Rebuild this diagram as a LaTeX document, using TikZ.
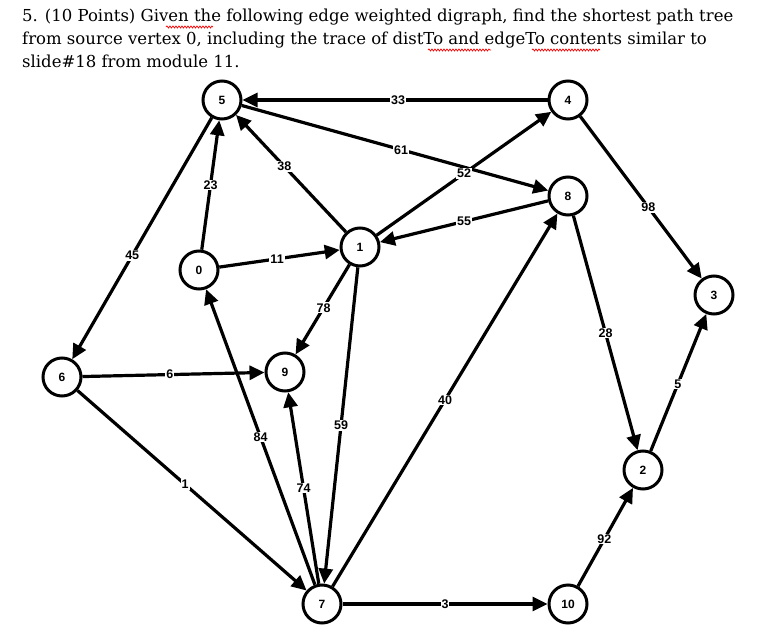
\documentclass[tikz,border=0pt]{standalone}
\usepackage{fontspec}
\setmainfont{DejaVu Serif}
\newfontfamily\lblfont{Liberation Sans}
\usetikzlibrary{arrows.meta,decorations.pathmorphing}
\begin{document}
\begin{tikzpicture}[x=1pt,y=-1pt,
  vtx/.style={circle,draw,line width=3pt,minimum size=38pt,inner sep=0pt,fill=white,font=\lblfont\bfseries\fontsize{12}{13}\selectfont},
  edg/.style={line width=3.2pt,-{Triangle[length=15pt,width=14pt]}},
  wt/.style={fill=white,inner sep=1pt,font=\lblfont\bfseries\fontsize{12.5}{13}\selectfont},
  squig/.style={red,line width=0.7pt,decorate,decoration={snake,amplitude=1pt,segment length=3pt}}]
\useasboundingbox (0,0) rectangle (770,644);
\node[anchor=base west,inner sep=0pt,font=\fontsize{16.5}{18}\selectfont] (t1) at (22,22) {5. (10 Points) Given the following edge weighted digraph, find the shortest path tree};
\node[anchor=base west,inner sep=0pt,font=\fontsize{16.5}{18}\selectfont] (t2) at (22,45) {from source vertex 0, including the trace of distTo and edgeTo contents similar to};
\node[anchor=base west,inner sep=0pt,font=\fontsize{16.5}{18}\selectfont] (t3) at (22,68) {slide\#18 from module 11.};
\draw[squig] (166,27) -- (213,27);
\draw[squig] (428,50) -- (491,50);
\draw[squig] (532,50) -- (600,50);
\node[vtx] (5) at (222,100) {5};
\node[vtx] (4) at (568,100) {4};
\node[vtx] (8) at (568,196) {8};
\node[vtx] (1) at (360,247) {1};
\node[vtx] (0) at (199,270) {0};
\node[vtx] (3) at (714,295) {3};
\node[vtx] (6) at (62,377) {6};
\node[vtx] (9) at (285,372) {9};
\node[vtx] (2) at (643,470) {2};
\node[vtx] (7) at (322,604) {7};
\node[vtx] (10) at (568,604) {10};
\draw[edg] (4) -- node[wt,pos=0.49]{33} (5);
\draw[edg] (5) -- node[wt,pos=0.52]{61} (8);
\draw[edg] (1) -- node[wt,pos=0.5]{52} (4);
\draw[edg] (8) -- node[wt,pos=0.5]{55} (1);
\draw[edg] (4) -- node[wt,pos=0.56]{98} (3);
\draw[edg] (5) -- node[wt,pos=0.57]{45} (6);
\draw[edg] (0) -- node[wt,pos=0.5]{23} (5);
\draw[edg] (1) -- node[wt,pos=0.56]{38} (5);
\draw[edg] (0) -- node[wt,pos=0.48]{11} (1);
\draw[edg] (1) -- node[wt,pos=0.48]{78} (9);
\draw[edg] (6) -- node[wt,pos=0.48]{6} (9);
\draw[edg] (6) -- node[wt,pos=0.47]{1} (7);
\draw[edg] (7) -- node[wt,pos=0.5]{84} (0);
\draw[edg] (7) -- node[wt,pos=0.5]{74} (9);
\draw[edg] (1) -- node[wt,pos=0.5]{59} (7);
\draw[edg] (7) -- node[wt,pos=0.5]{40} (8);
\draw[edg] (8) -- node[wt,pos=0.5]{28} (2);
\draw[edg] (2) -- node[wt,pos=0.49]{5} (3);
\draw[edg] (10) -- node[wt,pos=0.48]{92} (2);
\draw[edg] (7) -- node[wt,pos=0.5]{3} (10);
\end{tikzpicture}
\end{document}
